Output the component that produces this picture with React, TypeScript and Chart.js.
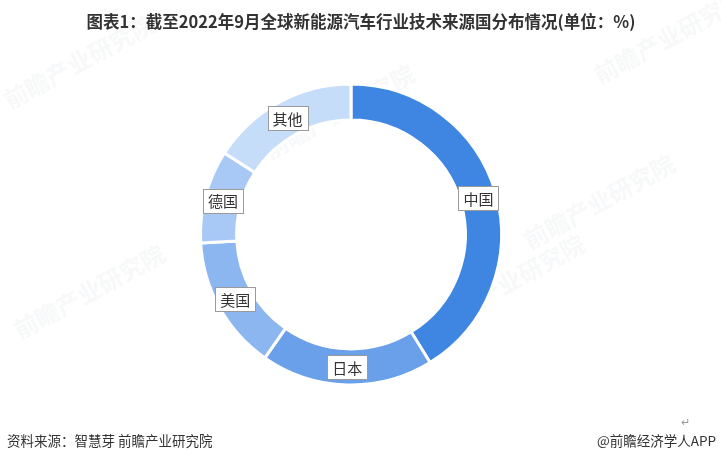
import React, { useEffect, useRef } from "react";
import { Chart, registerables } from "chart.js";

Chart.register(...registerables);

const categories = ["中国", "日本", "美国", "德国", "其他"];
const shares = [41.2, 18.5, 14.4, 10.0, 15.9];
const colors = ["#3E86E1", "#6AA0E9", "#8CB6F0", "#A8C9F5", "#C6DDF9"];
const titleText = "图表1：截至2022年9月全球新能源汽车行业技术来源国分布情况(单位：%)";
const sourceText = "资料来源：智慧芽 前瞻产业研究院";
const brandText = "@前瞻经济学人APP";

const W = 721;
const H = 464;
const FONT = '"Noto Sans CJK SC", "Noto Sans", sans-serif';

const decorPlugin = {
  id: "decor",
  beforeDraw(chart: any) {
    const ctx = chart.ctx;
    ctx.save();
    ctx.fillStyle = "#ffffff";
    ctx.fillRect(0, 0, chart.width, chart.height);
    // faint watermarks
    ctx.fillStyle = "rgba(200,205,215,0.14)";
    ctx.font = `bold 24px ${FONT}`;
    const marks = [
      [270, 160],
      [530, 250],
      [440, 330],
      [20, 340],
      [10, 110],
      [600, 85],
    ];
    for (const [x, y] of marks) {
      ctx.save();
      ctx.translate(x, y);
      ctx.rotate(-0.5);
      ctx.fillText("前瞻产业研究院", 0, 0);
      ctx.restore();
    }
    ctx.restore();
  },
  afterDraw(chart: any) {
    const ctx = chart.ctx;
    ctx.save();
    // title
    ctx.fillStyle = "#333333";
    ctx.font = `bold 16.5px ${FONT}`;
    ctx.textAlign = "center";
    ctx.textBaseline = "middle";
    ctx.fillText(titleText, 361, 22);
    // labels
    const meta = chart.getDatasetMeta(0);
    ctx.font = `15px ${FONT}`;
    meta.data.forEach((arc: any, i: number) => {
      const p = arc.tooltipPosition();
      const text = categories[i];
      const tw = ctx.measureText(text).width;
      const bw = tw + 10;
      const bh = 24;
      const x = Math.round(p.x - bw / 2) + 0.5;
      const y = Math.round(p.y - bh / 2) + 0.5;
      ctx.fillStyle = "#ffffff";
      ctx.fillRect(x, y, bw, bh);
      ctx.strokeStyle = "#9a9a9a";
      ctx.lineWidth = 1;
      ctx.strokeRect(x, y, bw, bh);
      ctx.fillStyle = "#333333";
      ctx.textAlign = "center";
      ctx.textBaseline = "middle";
      ctx.fillText(text, p.x, p.y + 1);
    });
    // footer
    ctx.font = `13.5px ${FONT}`;
    ctx.fillStyle = "#333333";
    ctx.textAlign = "left";
    ctx.textBaseline = "middle";
    ctx.fillText(sourceText, 7, 441);
    ctx.textAlign = "right";
    ctx.fillText(brandText, 716, 441);
    ctx.fillStyle = "#999999";
    ctx.font = `11px ${FONT}`;
    ctx.textAlign = "center";
    ctx.fillText("↵", 685, 422);
    ctx.restore();
  },
};

export default function App() {
  const ref = useRef<HTMLCanvasElement | null>(null);
  useEffect(() => {
    document.body.style.margin = "0";
    const chart = new Chart(ref.current as HTMLCanvasElement, {
      type: "doughnut",
      data: {
        labels: categories,
        datasets: [
          {
            data: shares,
            backgroundColor: colors,
            borderColor: "#ffffff",
            borderWidth: 3,
          },
        ],
      },
      options: {
        animation: false,
        responsive: false,
        cutout: "76%",
        layout: { padding: { left: 199, right: 218, top: 82.5, bottom: 77.5 } },
        plugins: {
          legend: { display: false },
          tooltip: { enabled: false },
          title: { display: false },
        },
      },
      plugins: [decorPlugin],
    });
    return () => chart.destroy();
  }, []);
  return (
    <div style={{ width: W, height: H, position: "relative" }}>
      <canvas ref={ref} width={W} height={H} style={{ width: W, height: H, display: "block" }} />
    </div>
  );
}
